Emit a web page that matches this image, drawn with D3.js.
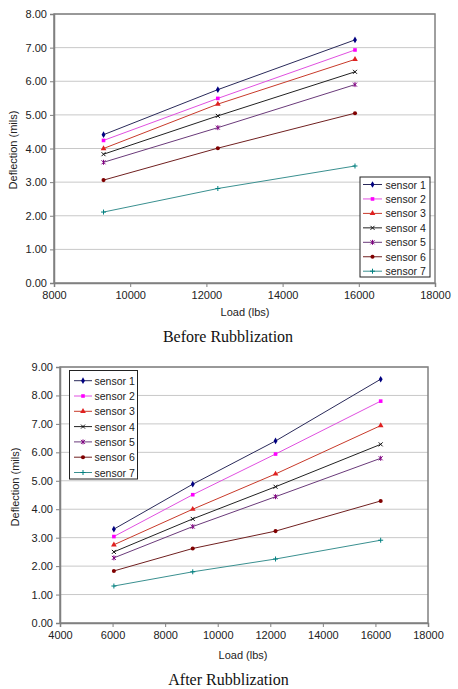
<!DOCTYPE html>
<html><head><meta charset="utf-8">
<script src="https://cdn.jsdelivr.net/npm/d3@7"></script>
<style>
body{margin:0;background:#fff;}
svg{display:block;font-family:"Liberation Sans",Arial,sans-serif;}
</style></head>
<body>
<svg id="c" width="458" height="689"></svg>
<script>
const sensors = ["sensor 1","sensor 2","sensor 3","sensor 4","sensor 5","sensor 6","sensor 7"];
const colors = ["#000080","#FF00FF","#E02020","#111111","#800080","#800000","#008080"];
const lineColors = ["#2a2a5a","#e050e0","#c83a2a","#222222","#6a3a7a","#702020","#3a9090"];

// Before Rubblization
const loadBefore = [9300, 12300, 15900];
const before = [
  [4.41, 5.75, 7.23],
  [4.24, 5.49, 6.93],
  [4.00, 5.32, 6.65],
  [3.83, 4.97, 6.28],
  [3.59, 4.62, 5.90],
  [3.06, 4.01, 5.05],
  [2.11, 2.81, 3.48]
];
const xTicksBefore = [8000, 10000, 12000, 14000, 16000, 18000];
const yTicksBefore = [0,1,2,3,4,5,6,7,8];

// After Rubblization
const loadAfter = [6050, 9050, 12200, 16200];
const after = [
  [3.30, 4.88, 6.40, 8.57],
  [3.04, 4.51, 5.94, 7.80],
  [2.75, 4.00, 5.24, 6.94],
  [2.50, 3.66, 4.79, 6.28],
  [2.29, 3.39, 4.44, 5.79],
  [1.83, 2.62, 3.23, 4.29],
  [1.30, 1.80, 2.25, 2.91]
];
const xTicksAfter = [4000, 6000, 8000, 10000, 12000, 14000, 16000, 18000];
const yTicksAfter = [0,1,2,3,4,5,6,7,8,9];

const symbols = [d3.symbolDiamond, d3.symbolSquare, d3.symbolTriangle, d3.symbolCross, d3.symbolStar, d3.symbolCircle, d3.symbolCross];
const symSizes = [13, 13, 14, 12, 12, 13, 12];

const svg = d3.select("#c");

function drawMarker(g, i, x, y){
  if (i === 3) { // x mark
    g.append("path").attr("d", `M${x-2},${y-2}L${x+2},${y+2}M${x-2},${y+2}L${x+2},${y-2}`)
      .attr("stroke", colors[i]).attr("stroke-width", 1).attr("fill","none");
  } else if (i === 6) { // plus
    g.append("path").attr("d", `M${x-2.5},${y}L${x+2.5},${y}M${x},${y-2.5}L${x},${y+2.5}`)
      .attr("stroke", colors[i]).attr("stroke-width", 1).attr("fill","none");
  } else if (i === 4) { // star
    g.append("path").attr("d", `M${x-2},${y-2}L${x+2},${y+2}M${x-2},${y+2}L${x+2},${y-2}M${x},${y-2.5}L${x},${y+2.5}`)
      .attr("stroke", colors[i]).attr("stroke-width", 1).attr("fill","none");
  } else {
    g.append("path").attr("d", d3.symbol().type(symbols[i]).size(symSizes[i])())
      .attr("transform", `translate(${x},${y})`).attr("fill", colors[i]);
  }
}

function chart(cfg){
  const x = d3.scaleLinear().domain(cfg.xDomain).range([cfg.left, cfg.right]);
  const y = d3.scaleLinear().domain(cfg.yDomain).range([cfg.bottom, cfg.top]);
  const g = svg.append("g");

  // gridlines
  g.selectAll(".grid").data(cfg.yTicks.slice(1)).enter().append("line")
    .attr("x1", cfg.left).attr("x2", cfg.right)
    .attr("y1", d => y(d)).attr("y2", d => y(d))
    .attr("stroke", "#c8c8c8").attr("stroke-width", 1);

  // frame
  g.append("rect").attr("x", cfg.left).attr("y", cfg.top)
    .attr("width", cfg.right - cfg.left).attr("height", cfg.bottom - cfg.top)
    .attr("fill", "none").attr("stroke", "#808080").attr("stroke-width", 1.5);

  // axes
  const ya = d3.axisLeft(y).tickValues(cfg.yTicks).tickFormat(d3.format(".2f")).tickSizeOuter(0).tickSize(4).tickPadding(3);
  const yg = g.append("g").attr("transform", `translate(${cfg.left},0)`).call(ya);
  const xa = d3.axisBottom(x).tickValues(cfg.xTicks).tickFormat(d3.format("d")).tickSizeOuter(0).tickSize(4).tickPadding(4);
  const xg = g.append("g").attr("transform", `translate(0,${cfg.bottom})`).call(xa);
  [yg, xg].forEach(a => {
    a.select(".domain").attr("stroke", "#808080").attr("stroke-width", 1.5);
    a.selectAll(".tick line").attr("stroke", "#808080");
    a.selectAll(".tick text").attr("fill", "#222").style("font-size", "11px").style("font-family", '"Liberation Sans",Arial,sans-serif');
  });

  // lines + markers
  const line = d3.line().x((d, j) => x(cfg.load[j])).y(d => y(d));
  cfg.data.forEach((s, i) => {
    g.append("path").datum(s).attr("d", line).attr("fill", "none")
      .attr("stroke", lineColors[i]).attr("stroke-width", 1);
    s.forEach((v, j) => drawMarker(g, i, x(cfg.load[j]), y(v)));
  });

  // axis labels
  g.append("text").attr("x", cfg.xLabelX).attr("y", cfg.xLabelY).attr("text-anchor", "middle")
    .style("font-size", "11px").attr("fill", "#222").text("Load (lbs)");
  g.append("text").attr("transform", `translate(${cfg.yLabelX},${cfg.yLabelY}) rotate(-90)`)
    .attr("text-anchor", "middle").style("font-size", "11px").attr("fill", "#222").text("Deflection (mils)");

  // legend
  const L = cfg.legend;
  g.append("rect").attr("x", L.x).attr("y", L.y).attr("width", L.w).attr("height", L.h)
    .attr("fill", "#fff").attr("stroke", "#222").attr("stroke-width", 1);
  sensors.forEach((name, i) => {
    const yy = L.y0 + i * L.dy;
    g.append("line").attr("x1", L.lx1).attr("x2", L.lx2).attr("y1", yy).attr("y2", yy)
      .attr("stroke", lineColors[i]).attr("stroke-width", 1);
    drawMarker(g, i, (L.lx1 + L.lx2) / 2, yy);
    g.append("text").attr("x", L.tx).attr("y", yy + 4).style("font-size", L.fs)
      .attr("fill", "#222").text(name);
  });

  // title
  g.append("text").attr("x", cfg.titleX).attr("y", cfg.titleY).attr("text-anchor", "middle")
    .style("font-family", '"Liberation Serif","Times New Roman",serif').style("font-size", "16px")
    .attr("fill", "#111").text(cfg.title);
}

chart({
  left: 54, right: 435, top: 14, bottom: 283,
  xDomain: [8000, 18000], yDomain: [0, 8],
  xTicks: xTicksBefore, yTicks: yTicksBefore,
  load: loadBefore, data: before,
  xLabelX: 245, xLabelY: 315.5, yLabelX: 17, yLabelY: 150,
  legend: {x: 360, y: 177, w: 70, h: 100, y0: 184.5, dy: 14.45, lx1: 363, lx2: 382, tx: 385.5, fs: "10.5px"},
  title: "Before Rubblization", titleX: 228, titleY: 341.5
});

chart({
  left: 60, right: 428, top: 367, bottom: 623,
  xDomain: [4000, 18000], yDomain: [0, 9],
  xTicks: xTicksAfter, yTicks: yTicksAfter,
  load: loadAfter, data: after,
  xLabelX: 243, xLabelY: 659, yLabelX: 19, yLabelY: 487,
  legend: {x: 69.5, y: 370.5, w: 68, h: 108.5, y0: 380.7, dy: 15.3, lx1: 74, lx2: 92, tx: 94.5, fs: "10.5px"},
  title: "After Rubblization", titleX: 228.5, titleY: 685
});
</script>
</body></html>
